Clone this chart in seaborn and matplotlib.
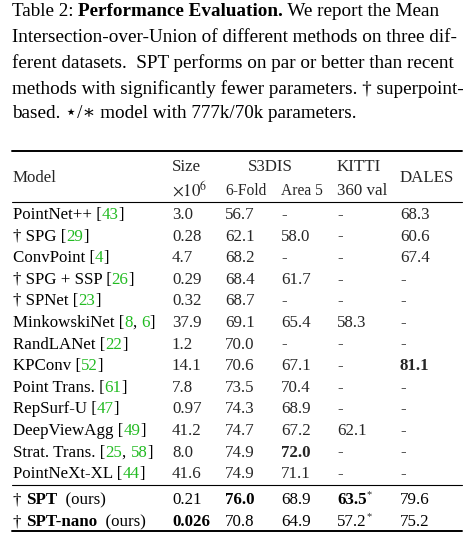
import matplotlib.pyplot as plt
import seaborn as sns

sns.set_theme(style="white")
plt.rcParams['font.family'] = ['Liberation Serif', 'DejaVu Serif', 'DejaVu Sans']

GREEN = '#22bb22'

# caption lines: list of (text, bold)
caption = [
    [("Table 2: ", False), ("Performance Evaluation.", True), (" We report the Mean", False)],
    [("Intersection-over-Union of different methods on three dif-", False)],
    [("ferent datasets.  SPT performs on par or better than recent", False)],
    [("methods with significantly fewer parameters. \u2020 superpoint-", False)],
    [("based. \u22c6/\u2217 model with 777k/70k parameters.", False)],
]

# model names: (prefix, name, cites)
models = [
    ("", "PointNet++", ["43"]), ("\u2020 ", "SPG", ["29"]), ("", "ConvPoint", ["4"]),
    ("\u2020 ", "SPG + SSP", ["26"]), ("\u2020 ", "SPNet", ["23"]), ("", "MinkowskiNet", ["8", "6"]),
    ("", "RandLANet", ["22"]), ("", "KPConv", ["52"]), ("", "Point Trans.", ["61"]),
    ("", "RepSurf-U", ["47"]), ("", "DeepViewAgg", ["49"]), ("", "Strat. Trans.", ["25", "58"]),
    ("", "PointNeXt-XL", ["44"]),
]
size = ["3.0", "0.28", "4.7", "0.29", "0.32", "37.9", "1.2", "14.1", "7.8", "0.97", "41.2", "8.0", "41.6"]
fold6 = ["56.7", "62.1", "68.2", "68.4", "68.7", "69.1", "70.0", "70.6", "73.5", "74.3", "74.7", "74.9", "74.9"]
area5 = ["-", "58.0", "-", "61.7", "-", "65.4", "-", "67.1", "70.4", "68.9", "67.2", "72.0", "71.1"]
kitti = ["-", "-", "-", "-", "-", "58.3", "-", "-", "-", "-", "62.1", "-", "-"]
dales = ["68.3", "60.6", "67.4", "-", "-", "-", "-", "81.1", "-", "-", "-", "-", "-"]
bold_cells = {(11, 2), (7, 4)}

ours_names = ["SPT", "SPT-nano"]
ours = [["0.21", "76.0", "68.9", "63.5", "79.6"], ["0.026", "70.8", "64.9", "57.2", "75.2"]]
ours_bold = {(0, 1), (0, 3), (1, 0)}

fig = plt.figure(figsize=(4.74, 5.45), dpi=100)
ax = fig.add_axes([0, 0, 1, 1])
ax.set_xlim(0, 474)
ax.set_ylim(545, 0)
ax.axis('off')
fig.canvas.draw()
rend = fig.canvas.get_renderer()


def seq(x, y, parts):
    for t, c, w, f in parts:
        txt = ax.text(x, y, t, color=c, fontweight=w, fontsize=f, va='center', ha='left')
        x += txt.get_window_extent(rend).width
    return x


# caption
cap_y = [12, 38, 63, 89, 114]
for line, y in zip(caption, cap_y):
    seq(12, y, [(t, 'black', 'bold' if b else 'normal', 13.8) for t, b in line])

FS = 12.2
cols = [172, 225, 281, 337, 400]
# rules
ax.plot([12, 462], [151, 151], color='black', lw=1.4)
ax.plot([12, 462], [202, 202], color='black', lw=0.8)
ax.plot([12, 462], [485, 485], color='black', lw=0.8)
ax.plot([12, 462], [531, 531], color='black', lw=1.4)

# header
ax.text(13, 178, "Model", fontsize=FS, va='center')
ax.text(172, 167, "Size", fontsize=FS, va='center')
ax.text(172, 190, r"$\times10^6$", fontsize=FS, va='center', math_fontfamily='stix')
ax.text(270, 167, "S3DIS", fontsize=FS, va='center', ha='center')
ax.text(225, 191, "6-Fold", fontsize=FS - 1, va='center')
ax.text(281, 191, "Area 5", fontsize=FS - 1, va='center')
ax.text(337, 167, "KITTI", fontsize=FS, va='center')
ax.text(337, 191, "360 val", fontsize=FS, va='center')
ax.text(400, 178, "DALES", fontsize=FS, va='center')

for i, (pre, name, cites) in enumerate(models):
    y = 215 + i * 21.6
    parts = [(pre + name + " [", 'black', 'normal', FS)]
    for k, c in enumerate(cites):
        if k:
            parts.append((", ", 'black', 'normal', FS))
        parts.append((c, GREEN, 'normal', FS))
    parts.append(("]", 'black', 'normal', FS))
    seq(13, y, parts)
    for j, v in enumerate([size[i], fold6[i], area5[i], kitti[i], dales[i]]):
        ax.text(cols[j], y, v, fontsize=FS, va='center',
                fontweight='bold' if (i, j) in bold_cells else 'normal')

for i, nm in enumerate(ours_names):
    y = 500 + i * 22
    seq(13, y, [("\u2020 ", 'black', 'normal', FS), (nm, 'black', 'bold', FS),
                ("  (ours)", 'black', 'normal', FS)])
    for j, v in enumerate(ours[i]):
        end = seq(cols[j], y, [(v, 'black', 'bold' if (i, j) in ours_bold else 'normal', FS)])
        if j == 3:
            ax.text(end, y - 5, "*", fontsize=7.5, va='center')

fig.savefig('out.png', dpi=100, facecolor='white')
